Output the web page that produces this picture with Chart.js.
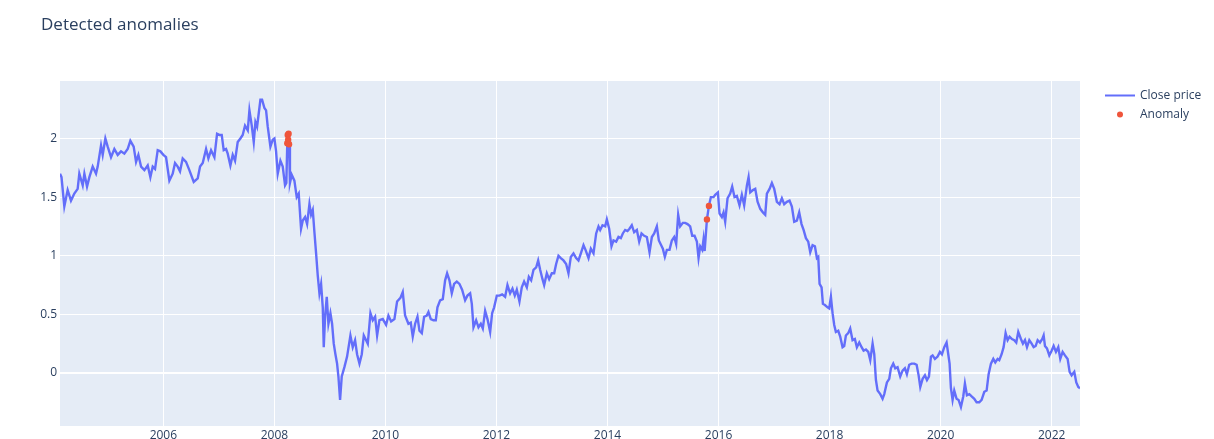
<!DOCTYPE html>
<html>
<head>
<meta charset="utf-8">
<title>Detected anomalies</title>
<script src="https://cdn.jsdelivr.net/npm/chart.js@4.4.1/dist/chart.umd.min.js"></script>
<style>
  html, body { margin: 0; padding: 0; background: #fff; }
  canvas { display: block; }
</style>
</head>
<body>
<canvas id="chart" width="1214" height="439"></canvas>
<script>
// close price (x in decimal years)
const closeYears = [
  2004.138, 2004.165, 2004.216, 2004.276, 2004.336, 2004.396, 2004.456, 2004.486, 2004.547, 2004.577,
  2004.625, 2004.667, 2004.727, 2004.787, 2004.817, 2004.877, 2004.907, 2004.955, 2004.997,
  2005.057, 2005.117, 2005.177, 2005.237, 2005.297, 2005.357, 2005.405, 2005.465, 2005.508, 2005.550,
  2005.598, 2005.658, 2005.718, 2005.766, 2005.808, 2005.850, 2005.898, 2005.946,
  2006.000, 2006.048, 2006.108, 2006.168, 2006.210, 2006.258, 2006.300, 2006.348, 2006.408, 2006.468,
  2006.547, 2006.619, 2006.661, 2006.709, 2006.769, 2006.811, 2006.859, 2006.919, 2006.967,
  2007.009, 2007.051, 2007.087, 2007.129, 2007.159, 2007.207, 2007.249, 2007.291, 2007.339, 2007.387,
  2007.429, 2007.471, 2007.520, 2007.550, 2007.592, 2007.628, 2007.658, 2007.688, 2007.748, 2007.778,
  2007.820, 2007.850, 2007.880, 2007.928, 2007.970,
  2008.000, 2008.030, 2008.060, 2008.108, 2008.150, 2008.192, 2008.215, 2008.232, 2008.240, 2008.248,
  2008.256, 2008.264, 2008.280, 2008.312, 2008.360, 2008.402, 2008.438, 2008.480, 2008.511, 2008.553,
  2008.589, 2008.631, 2008.661, 2008.691, 2008.721, 2008.751, 2008.781, 2008.811, 2008.841, 2008.871,
  2008.889, 2008.913, 2008.943, 2008.973,
  2009.009, 2009.039, 2009.069, 2009.099, 2009.129, 2009.153, 2009.183, 2009.213, 2009.261, 2009.309,
  2009.369, 2009.411, 2009.453, 2009.489, 2009.532, 2009.574, 2009.610, 2009.652, 2009.682, 2009.730,
  2009.772, 2009.814, 2009.850, 2009.892, 2009.952,
  2010.012, 2010.054, 2010.102, 2010.162, 2010.210, 2010.270, 2010.312, 2010.354, 2010.414, 2010.456,
  2010.492, 2010.535, 2010.577, 2010.613, 2010.655, 2010.697, 2010.745, 2010.775, 2010.817, 2010.865,
  2010.907, 2010.937, 2010.985,
  2011.033, 2011.075, 2011.111, 2011.153, 2011.195, 2011.237, 2011.285, 2011.333, 2011.381, 2011.435,
  2011.477, 2011.526, 2011.556, 2011.586, 2011.634, 2011.676, 2011.718, 2011.754, 2011.796, 2011.838,
  2011.886, 2011.922, 2011.958,
  2012.006, 2012.054, 2012.102, 2012.156, 2012.198, 2012.246, 2012.288, 2012.330, 2012.366, 2012.414,
  2012.456, 2012.498, 2012.547, 2012.583, 2012.625, 2012.667, 2012.715, 2012.751, 2012.787, 2012.829,
  2012.859, 2012.907, 2012.949, 2012.997,
  2013.039, 2013.075, 2013.117, 2013.159, 2013.207, 2013.255, 2013.297, 2013.339, 2013.387, 2013.435,
  2013.477, 2013.520, 2013.568, 2013.604, 2013.658, 2013.700, 2013.748, 2013.796, 2013.838, 2013.868,
  2013.910, 2013.958, 2013.988,
  2014.030, 2014.072, 2014.108, 2014.156, 2014.198, 2014.240, 2014.276, 2014.318, 2014.360, 2014.396,
  2014.438, 2014.480, 2014.529, 2014.571, 2014.613, 2014.661, 2014.709, 2014.757, 2014.799, 2014.841,
  2014.889, 2014.925, 2014.967, 2014.997,
  2015.033, 2015.069, 2015.117, 2015.159, 2015.201, 2015.237, 2015.273, 2015.309, 2015.357, 2015.399,
  2015.441, 2015.489, 2015.526, 2015.568, 2015.610, 2015.640, 2015.670, 2015.706, 2015.730, 2015.750,
  2015.791, 2015.827, 2015.862, 2015.910, 2015.940, 2015.988,
  2016.018, 2016.060, 2016.090, 2016.120, 2016.162, 2016.210, 2016.246, 2016.288, 2016.330, 2016.378,
  2016.420, 2016.462, 2016.511, 2016.541, 2016.571, 2016.619, 2016.661, 2016.703, 2016.751, 2016.799,
  2016.841, 2016.871, 2016.919, 2016.961,
  2017.003, 2017.051, 2017.099, 2017.141, 2017.183, 2017.231, 2017.279, 2017.321, 2017.363, 2017.411,
  2017.453, 2017.495, 2017.532, 2017.574, 2017.616, 2017.652, 2017.694, 2017.736, 2017.772, 2017.796,
  2017.820, 2017.856, 2017.880, 2017.916, 2017.964, 2017.994,
  2018.024, 2018.054, 2018.084, 2018.114, 2018.156, 2018.192, 2018.234, 2018.264, 2018.294, 2018.336,
  2018.372, 2018.414, 2018.456, 2018.492, 2018.535, 2018.577, 2018.613, 2018.655, 2018.697, 2018.733,
  2018.775, 2018.805, 2018.835, 2018.865, 2018.913, 2018.955, 2018.985,
  2019.033, 2019.075, 2019.105, 2019.147, 2019.183, 2019.225, 2019.273, 2019.315, 2019.357, 2019.393,
  2019.435, 2019.477, 2019.526, 2019.568, 2019.604, 2019.634, 2019.676, 2019.718, 2019.754, 2019.790,
  2019.826, 2019.856, 2019.898, 2019.946, 2019.988,
  2020.024, 2020.066, 2020.108, 2020.138, 2020.162, 2020.186, 2020.216, 2020.246, 2020.288, 2020.324,
  2020.366, 2020.408, 2020.438, 2020.474, 2020.517, 2020.559, 2020.607, 2020.649, 2020.697, 2020.739,
  2020.787, 2020.829, 2020.865, 2020.907, 2020.949, 2020.985,
  2021.027, 2021.057, 2021.099, 2021.135, 2021.171, 2021.207, 2021.243, 2021.285, 2021.327, 2021.363,
  2021.399, 2021.447, 2021.483, 2021.520, 2021.556, 2021.598, 2021.640, 2021.676, 2021.712, 2021.748,
  2021.790, 2021.832, 2021.856, 2021.880, 2021.916, 2021.958,
  2022.000, 2022.036, 2022.078, 2022.120, 2022.156, 2022.198, 2022.240, 2022.288, 2022.324, 2022.360,
  2022.408, 2022.444, 2022.480, 2022.511
];

const closeValues = [
  1.70, 1.67, 1.42, 1.56, 1.47, 1.53, 1.57, 1.70, 1.60, 1.70,
  1.59, 1.67, 1.76, 1.70, 1.76, 1.94, 1.86, 2.00, 1.93,
  1.84, 1.91, 1.86, 1.89, 1.87, 1.91, 1.98, 1.93, 1.80, 1.86,
  1.76, 1.73, 1.77, 1.67, 1.76, 1.74, 1.90, 1.89,
  1.86, 1.84, 1.64, 1.70, 1.79, 1.76, 1.72, 1.83, 1.80, 1.73,
  1.63, 1.66, 1.76, 1.79, 1.91, 1.83, 1.90, 1.84, 2.04,
  2.03, 2.03, 1.90, 1.91, 1.87, 1.77, 1.86, 1.81, 1.97, 2.00,
  2.03, 2.11, 2.07, 2.24, 2.11, 1.97, 2.14, 2.10, 2.33, 2.33,
  2.26, 2.24, 2.10, 1.93, 1.99,
  2.00, 1.89, 1.70, 1.81, 1.76, 1.60, 1.62, 1.96, 2.03, 1.99,
  2.04, 1.95, 1.62, 1.69, 1.64, 1.50, 1.53, 1.23, 1.30, 1.33,
  1.27, 1.44, 1.35, 1.39, 1.20, 1.02, 0.83, 0.68, 0.76, 0.56,
  0.22, 0.48, 0.65, 0.42,
  0.51, 0.42, 0.25, 0.16, 0.08, -0.03, -0.23, -0.03, 0.05, 0.14,
  0.32, 0.22, 0.28, 0.16, 0.08, 0.16, 0.32, 0.28, 0.25, 0.51,
  0.45, 0.48, 0.32, 0.45, 0.46,
  0.41, 0.49, 0.44, 0.46, 0.61, 0.64, 0.69, 0.49, 0.42, 0.43,
  0.31, 0.42, 0.48, 0.36, 0.34, 0.48, 0.49, 0.52, 0.46, 0.45,
  0.45, 0.56, 0.62,
  0.63, 0.79, 0.85, 0.79, 0.68, 0.76, 0.78, 0.76, 0.71, 0.62,
  0.66, 0.68, 0.59, 0.39, 0.45, 0.39, 0.42, 0.38, 0.53, 0.46,
  0.35, 0.51, 0.56,
  0.66, 0.66, 0.67, 0.65, 0.75, 0.68, 0.72, 0.66, 0.71, 0.61,
  0.73, 0.78, 0.73, 0.82, 0.79, 0.88, 0.90, 0.96, 0.88, 0.80,
  0.75, 0.85, 0.80, 0.85,
  0.85, 0.93, 1.00, 0.98, 0.96, 0.93, 0.85, 0.99, 1.02, 0.98,
  0.96, 1.02, 1.09, 1.05, 0.98, 1.06, 1.02, 1.19, 1.25, 1.22,
  1.26, 1.25, 1.31,
  1.23, 1.08, 1.13, 1.12, 1.16, 1.15, 1.19, 1.22, 1.21, 1.23,
  1.26, 1.20, 1.22, 1.12, 1.19, 1.17, 1.16, 1.03, 1.16, 1.19,
  1.25, 1.13, 1.09, 1.06,
  0.99, 1.05, 1.05, 1.13, 1.16, 1.10, 1.35, 1.25, 1.28, 1.28,
  1.27, 1.25, 1.17, 1.17, 1.12, 0.98, 1.08, 1.05, 1.14, 1.04,
  1.31, 1.425, 1.50, 1.50, 1.52, 1.54,
  1.36, 1.33, 1.37, 1.29, 1.49, 1.53, 1.59, 1.50, 1.51, 1.43,
  1.52, 1.43, 1.60, 1.67, 1.54, 1.56, 1.57, 1.46, 1.40, 1.37,
  1.35, 1.53, 1.57, 1.62,
  1.57, 1.46, 1.44, 1.49, 1.44, 1.46, 1.47, 1.42, 1.29, 1.30,
  1.37, 1.27, 1.22, 1.15, 1.12, 1.03, 1.09, 1.08, 0.98, 0.99,
  0.76, 0.73, 0.59, 0.58, 0.56, 0.55,
  0.65, 0.51, 0.41, 0.35, 0.36, 0.31, 0.22, 0.23, 0.32, 0.34,
  0.38, 0.28, 0.29, 0.22, 0.26, 0.22, 0.19, 0.20, 0.18, 0.11,
  0.25, 0.16, -0.06, -0.15, -0.18, -0.22, -0.18,
  -0.08, -0.05, 0.04, 0.08, 0.04, 0.05, -0.03, 0.02, 0.04, -0.01,
  0.07, 0.08, 0.08, 0.07, -0.02, -0.12, -0.05, -0.02, -0.06, -0.03,
  0.14, 0.15, 0.12, 0.14, 0.18,
  0.16, 0.22, 0.26, 0.16, 0.08, -0.13, -0.23, -0.15, -0.22, -0.23,
  -0.29, -0.20, -0.09, -0.19, -0.18, -0.20, -0.22, -0.25, -0.25, -0.23,
  -0.16, -0.15, -0.01, 0.08, 0.12, 0.09,
  0.12, 0.11, 0.16, 0.22, 0.34, 0.28, 0.31, 0.29, 0.28, 0.26,
  0.35, 0.29, 0.25, 0.28, 0.22, 0.28, 0.25, 0.22, 0.23, 0.28,
  0.26, 0.29, 0.32, 0.23, 0.21, 0.15,
  0.19, 0.23, 0.18, 0.22, 0.12, 0.18, 0.15, 0.12, 0.01, -0.02,
  0.01, -0.08, -0.12, -0.13
];

// points flagged as anomalies
const anomalyYears = [2008.232, 2008.240, 2008.248, 2008.256, 2008.264, 2015.791, 2015.827];
const anomalyValues = [1.96, 2.03, 1.99, 2.04, 1.95, 1.31, 1.425];

const xTickYears = [2006, 2008, 2010, 2012, 2014, 2016, 2018, 2020, 2022];
const yTickValues = [0, 0.5, 1, 1.5, 2];

const LINE_COLOR = "#636efa";
const ANOMALY_COLOR = "#EF553B";
const TEXT_COLOR = "#2a3f5f";
const FONT_FAMILY = "'Open Sans', verdana, arial, sans-serif";

const toPoints = (xs, ys) => xs.map((x, i) => ({ x: x, y: ys[i] }));

// plot background, drawn under the grid
const plotBackground = {
  id: "plotBackground",
  beforeDraw(chart) {
    const { ctx, chartArea } = chart;
    ctx.save();
    ctx.fillStyle = "#E5ECF6";
    ctx.fillRect(chartArea.left, chartArea.top, chartArea.right - chartArea.left, chartArea.bottom - chartArea.top);
    ctx.restore();
  },
};

// title and legend laid out like the original figure
const titleAndLegend = {
  id: "titleAndLegend",
  afterDraw(chart) {
    const ctx = chart.ctx;
    const right = chart.chartArea.right;
    ctx.save();
    ctx.fillStyle = TEXT_COLOR;
    ctx.textBaseline = "middle";
    ctx.textAlign = "left";
    ctx.font = "17px " + FONT_FAMILY;
    ctx.fillText("Detected anomalies", 41, 25);

    ctx.font = "12px " + FONT_FAMILY;
    const lx = right + 25;
    ctx.strokeStyle = LINE_COLOR;
    ctx.lineWidth = 2;
    ctx.beginPath();
    ctx.moveTo(lx, 95.5);
    ctx.lineTo(lx + 30, 95.5);
    ctx.stroke();
    ctx.fillText(chart.data.datasets[1].label, lx + 35, 95.5);

    ctx.fillStyle = ANOMALY_COLOR;
    ctx.beginPath();
    ctx.arc(lx + 15, 114.5, 3, 0, Math.PI * 2);
    ctx.fill();
    ctx.fillStyle = TEXT_COLOR;
    ctx.fillText(chart.data.datasets[0].label, lx + 35, 114.5);
    ctx.restore();
  },
};

const tickFont = { family: FONT_FAMILY, size: 12 };

new Chart(document.getElementById("chart"), {
  type: "scatter",
  data: {
    datasets: [
      {
        label: "Anomaly",
        data: toPoints(anomalyYears, anomalyValues),
        backgroundColor: ANOMALY_COLOR,
        borderWidth: 0,
        pointRadius: 3.2,
        order: 0,
      },
      {
        type: "line",
        label: "Close price",
        data: toPoints(closeYears, closeValues),
        borderColor: LINE_COLOR,
        borderWidth: 2.4,
        pointRadius: 0,
        tension: 0,
        fill: false,
        order: 1,
      },
    ],
  },
  options: {
    responsive: false,
    animation: false,
    devicePixelRatio: 1,
    layout: { padding: { top: 81, right: 134, bottom: 0, left: 0 } },
    plugins: {
      legend: { display: false },
      title: { display: false },
      tooltip: { enabled: false },
    },
    scales: {
      x: {
        type: "linear",
        min: closeYears[0],
        max: closeYears[closeYears.length - 1],
        afterBuildTicks: (scale) => {
          scale.ticks = xTickYears.map((v) => ({ value: v }));
        },
        afterFit: (scale) => {
          scale.height = 13;
        },
        ticks: {
          callback: (v) => String(v),
          color: TEXT_COLOR,
          font: tickFont,
          padding: 2,
          maxRotation: 0,
          autoSkip: false,
        },
        grid: { color: "#ffffff", lineWidth: 1, drawTicks: false },
        border: { display: false },
      },
      y: {
        type: "linear",
        min: -0.452,
        max: 2.49,
        afterBuildTicks: (scale) => {
          scale.ticks = yTickValues.map((v) => ({ value: v }));
        },
        afterFit: (scale) => {
          scale.width = 60;
        },
        ticks: {
          callback: (v) => String(v),
          color: TEXT_COLOR,
          font: tickFont,
          padding: 3,
        },
        grid: {
          color: "#ffffff",
          lineWidth: (ctx) => (ctx.tick && ctx.tick.value === 0 ? 2 : 1),
          drawTicks: false,
        },
        border: { display: false },
      },
    },
  },
  plugins: [plotBackground, titleAndLegend],
});
</script>
</body>
</html>
